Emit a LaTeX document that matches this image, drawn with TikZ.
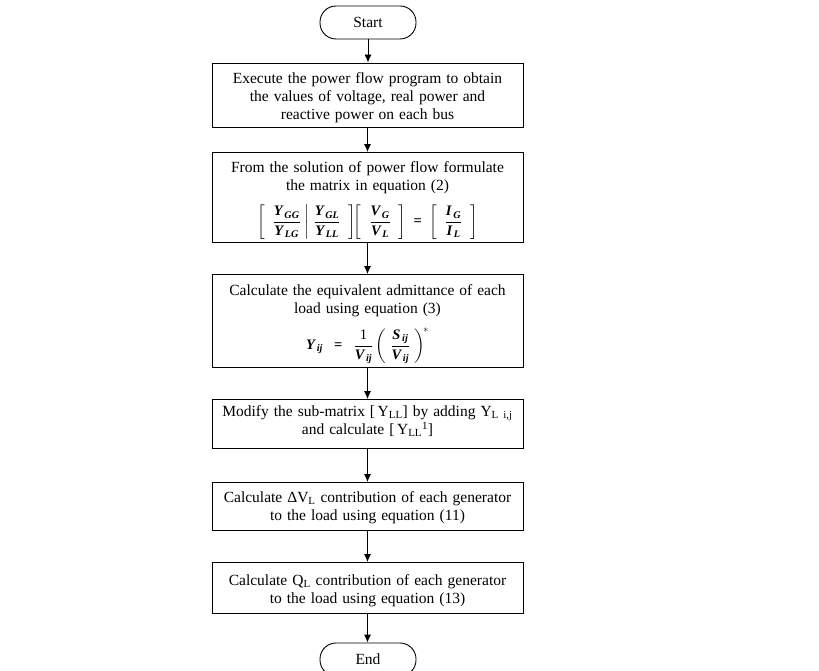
\documentclass[tikz,border=0pt]{standalone}
\usepackage{amsmath}
\usepackage{fontspec}
\setmainfont{Liberation Serif}
\usetikzlibrary{arrows.meta}
\newcommand{\bi}[1]{\text{\bfseries\itshape #1}}
\newcommand{\boxfont}{\fontsize{15.5}{18}\selectfont\spaceskip=5pt plus 1pt minus 1pt\relax}
\begin{document}
\begin{tikzpicture}[x=1pt,y=1pt, font=\boxfont,
 box/.style={draw, line width=0.9pt, minimum width=311pt, inner sep=0pt},
 txt/.style={align=center, inner sep=0pt},
 eq/.style={inner sep=0pt, font=\fontsize{14.5}{17}\selectfont},
 term/.style={draw, line width=0.9pt, rounded corners=16pt, minimum width=96pt, minimum height=33pt, inner sep=0pt},
 arr/.style={line width=0.9pt, -{Latex[length=8pt,width=7pt]}}]
\useasboundingbox (0,0) rectangle (819,-671);
\fill[white] (0,0) rectangle (819,-671);
\node[term] (start) at (368,-22.5) {Start};
\node[box, minimum height=64pt] (b1) at (367.5,-95) {};
\node[txt] (t1) at (367.5,-98) {Execute the power flow program to obtain\\ the values of voltage, real power and\\ reactive power on each bus};
\node[box, minimum height=90pt] (b2) at (367.5,-197.5) {};
\node[txt] (t2) at (367.5,-178) {From the solution of power flow formulate\\ the matrix in equation (2)};
\node[eq] (e2) at (367.5,-222) {$\left[\;\;\dfrac{\bi{Y}_{\,\bi{GG}}}{\bi{Y}_{\,\bi{LG}}}\;\middle|\;\dfrac{\bi{Y}_{\,\bi{GL}}}{\bi{Y}_{\,\bi{LL}}}\;\;\right]\!\!\left[\;\;\dfrac{\bi{V}_{\,\bi{G}}}{\bi{V}_{\,\bi{L}}}\;\;\right]\;\mathbin{\text{\bfseries =}}\;\left[\;\;\dfrac{\bi{I}_{\,\bi{G}}}{\bi{I}_{\,\bi{L}}}\;\;\right]$};
\node[box, minimum height=93pt] (b3) at (367.5,-321) {};
\node[txt] (t3) at (367.5,-301) {Calculate the equivalent admittance of each\\ load using equation (3)};
\node[eq] (e3) at (367.5,-346) {$\bi{Y}_{\,\bi{ij}}\;\;\mathbin{\text{\bfseries =}}\;\;\dfrac{\text{1}}{\bi{V}_{\,\bi{ij}}}\left(\;\dfrac{\bi{S}_{\,\bi{ij}}}{\bi{V}_{\,\bi{ij}}}\;\right)^{\!*}$};
\node[box, minimum height=49pt] (b4) at (367.5,-424) {};
\node[txt] (t4) at (367.5,-421) {Modify the sub-matrix [\,Y$_{\text{LL}}$] by adding Y$_{\text{L i,j}}$\\ and calculate [\,Y$_{\text{LL}}$\textsuperscript{1}]};
\node[box, minimum height=48pt] (b5) at (367.5,-506.5) {};
\node[txt] (t5) at (367.5,-508) {Calculate ΔV$_{\text{L}}$ contribution of each generator\\ to the load using equation (11)};
\node[box, minimum height=51pt] (b6) at (367.5,-588) {};
\node[txt] (t6) at (367.5,-591) {Calculate Q$_{\text{L}}$ contribution of each generator\\ to the load using equation (13)};
\node[term] (end) at (368,-659.5) {End};
\draw[arr] (start) -- (start|-b1.north);
\draw[arr] (b1) -- (b1|-b2.north);
\draw[arr] (b2) -- (b2|-b3.north);
\draw[arr] (b3) -- (b3|-b4.north);
\draw[arr] (b4) -- (b4|-b5.north);
\draw[arr] (b5) -- (b5|-b6.north);
\draw[arr] (b6) -- (b6|-end.north);
\end{tikzpicture}
\end{document}
